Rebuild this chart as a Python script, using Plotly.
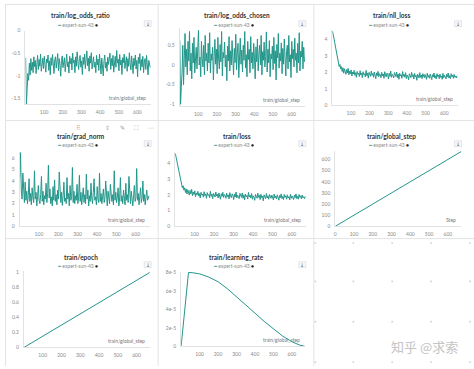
import plotly.graph_objects as go

W, H = 474, 369
TEAL = "#23968a"
GRAY_TXT = "#8a8a8a"
FONT = "Lato"

# ---------------- data ----------------
STEPS = list(range(1, 671, 4))

LOG_ODDS_RATIO = [
    -0.60, -1.62, -1.30, -0.95, -1.10, -0.72, -0.98, -0.62, -0.88, -0.70, -0.93, -0.58,
    -0.80, -0.66, -0.95, -0.72, -0.55, -0.86, -0.64, -0.79, -0.52, -0.90, -0.70, -0.61,
    -0.84, -0.57, -0.75, -0.92, -0.63, -0.71, -0.54, -0.88, -0.67, -0.98, -0.60, -0.77,
    -0.53, -0.74, -0.95, -0.65, -0.58, -0.83, -0.70, -0.51, -0.89, -0.62, -0.76, -1.01,
    -0.66, -0.56, -0.82, -0.72, -0.60, -0.91, -0.64, -0.52, -0.80, -0.69, -0.94, -0.57,
    -0.73, -0.61, -0.87, -0.50, -0.72, -0.65, -0.93, -0.58, -0.79, -0.47, -0.69, -0.86,
    -0.62, -0.55, -0.81, -0.67, -0.97, -0.59, -0.75, -0.52, -0.84, -0.64, -0.45, -0.78,
    -0.61, -0.90, -0.56, -0.72, -0.49, -0.85, -0.66, -0.58, -0.81, -0.70, -0.93, -0.55,
    -0.76, -0.63, -0.88, -0.52, -0.73, -0.96, -0.61, -0.79, -1.00, -0.67, -0.54, -0.83,
    -0.70, -0.90, -0.59, -0.75, -0.66, -0.50, -0.86, -0.62, -0.78, -0.55, -0.92, -0.68,
    -0.57, -0.81, -0.44, -0.72, -0.63, -0.89, -0.53, -0.76, -0.65, -0.97, -0.60, -0.71,
    -0.52, -0.84, -0.67, -0.58, -0.90, -0.62, -0.79, -0.49, -0.74, -0.87, -0.56, -0.69,
    -0.95, -0.61, -0.77, -0.54, -0.85, -0.66, -1.02, -0.59, -0.73, -0.51, -0.88, -0.64,
    -0.80, -0.57, -0.93, -0.70, -0.62, -0.86, -0.55, -0.76, -0.98, -0.66, -0.74, -0.82,
]

LOG_ODDS_CHOSEN = [
    0.62, -1.00, -0.55, -0.20, 0.50, -0.50, 0.15, 0.80, -0.05, 0.40, -0.25, 0.60,
    0.10, 0.85, -0.15, 0.30, -0.35, 0.55, 0.05, 0.70, -0.20, 0.25, 0.45, -0.10,
    0.35, 0.88, 0.00, 0.20, -0.30, 0.60, 0.15, -0.05, 0.50, -0.25, 0.75, 0.10,
    0.30, -0.15, 0.55, 0.05, 0.82, -0.20, 0.28, 0.12, 0.45, -0.38, 0.22, 0.65,
    0.02, 0.40, -0.22, 0.70, 0.15, -0.10, 0.52, 0.08, 0.85, -0.28, 0.32, 0.18,
    0.58, -0.05, 0.25, -0.40, 0.48, 0.10, 0.72, -0.15, 0.36, 0.00, 0.62, 0.20,
    -0.25, 0.42, 0.06, 0.78, -0.12, 0.30, 0.55, -0.32, 0.18, 0.68, 0.02, 0.38,
    -0.18, 0.50, 0.12, 0.85, -0.08, 0.26, -0.30, 0.60, 0.14, 0.40, -0.20, 0.72,
    0.05, 0.32, -0.10, 0.55, 0.20, -0.35, 0.46, 0.08, 0.66, -0.15, 0.28, 0.50,
    0.00, 0.75, -0.25, 0.34, 0.12, 0.58, -0.05, 0.22, 0.84, -0.18, 0.40, 0.06,
    0.62, -0.30, 0.28, 0.15, 0.48, -0.12, 0.70, 0.04, 0.36, -0.38, 0.52, 0.18,
    0.80, -0.08, 0.30, 0.10, 0.56, -0.22, 0.42, 0.02, 0.66, 0.14, -0.28, 0.34,
    0.50, -0.10, 0.75, 0.08, 0.26, -0.32, 0.60, 0.16, 0.40, -0.05, 0.68, 0.12,
    0.30, -0.20, 0.55, 0.05, 0.82, -0.15, 0.35, 0.20, 0.60, -0.10, 0.45, 0.08,
]

NLL_LOSS = [
    4.50, 4.35, 4.05, 3.80, 3.55, 3.35, 3.05, 2.75, 2.55, 2.35, 2.48, 2.20,
    2.35, 2.05, 2.28, 1.95, 2.22, 2.05, 1.88, 2.18, 1.96, 2.25, 1.85, 2.08,
    1.92, 2.15, 1.78, 2.02, 1.90, 2.12, 1.82, 1.98, 1.70, 2.06, 1.88, 1.95,
    1.75, 2.10, 1.84, 1.96, 1.68, 2.04, 1.86, 1.92, 1.72, 2.12, 1.80, 1.95,
    1.65, 2.00, 1.85, 1.76, 2.08, 1.82, 1.94, 1.70, 2.02, 1.88, 1.62, 1.97,
    1.80, 2.06, 1.74, 1.92, 1.85, 1.68, 2.00, 1.78, 1.90, 1.64, 2.04, 1.83,
    1.72, 1.96, 1.86, 1.60, 1.94, 1.76, 2.08, 1.70, 1.88, 1.80, 1.66, 1.99,
    1.82, 1.74, 2.02, 1.68, 1.90, 1.58, 1.95, 1.78, 1.86, 1.64, 2.05, 1.76,
    1.88, 1.70, 1.98, 1.62, 1.84, 1.75, 1.55, 1.92, 1.80, 1.68, 2.00, 1.74,
    1.86, 1.60, 1.94, 1.72, 1.82, 1.52, 1.90, 1.76, 1.66, 1.98, 1.70, 1.84,
    1.62, 1.92, 1.78, 1.68, 1.88, 1.74, 1.58, 1.95, 1.70, 1.82, 1.64, 1.90,
    1.76, 1.56, 1.86, 1.72, 1.96, 1.66, 1.80, 1.60, 1.92, 1.74, 1.84, 1.62,
    1.90, 1.70, 1.78, 1.58, 1.94, 1.68, 1.82, 1.74, 1.60, 1.88, 1.72, 1.96,
    1.66, 1.80, 1.62, 1.92, 1.74, 1.84, 1.64, 1.88, 1.70, 1.78, 1.66, 1.80,
]

GRAD_NORM = [
    4.30, 6.50, 3.20, 2.40, 4.70, 2.60, 2.10, 3.90, 2.30, 3.10, 2.00, 2.70,
    4.20, 2.20, 2.90, 1.90, 3.40, 2.50, 2.10, 4.90, 2.40, 3.00, 1.80, 2.60,
    3.60, 2.30, 2.00, 2.80, 4.40, 2.20, 3.10, 1.90, 2.70, 2.40, 3.80, 2.10,
    2.90, 5.40, 2.50, 3.30, 2.00, 2.60, 1.80, 3.50, 2.30, 4.10, 2.20, 2.80,
    1.90, 3.20, 2.40, 4.80, 2.60, 2.10, 3.00, 1.85, 2.70, 3.90, 2.20, 2.50,
    2.00, 4.30, 2.40, 2.90, 1.80, 3.60, 2.30, 2.60, 5.20, 2.10, 3.10, 2.00,
    2.70, 2.30, 3.70, 2.00, 2.50, 4.50, 2.20, 3.00, 1.90, 2.60, 3.40, 2.10,
    2.80, 2.00, 4.60, 2.40, 3.20, 1.80, 2.70, 2.20, 3.80, 2.50, 2.00, 3.00,
    4.20, 2.30, 2.60, 1.90, 3.50, 2.40, 2.10, 4.70, 2.20, 2.90, 2.00, 2.60,
    3.30, 2.10, 2.50, 4.00, 2.30, 1.80, 3.10, 2.60, 2.00, 3.70, 2.40, 2.20,
    2.80, 1.90, 4.90, 2.30, 3.00, 2.10, 2.60, 3.40, 1.80, 2.50, 4.30, 2.20,
    2.70, 2.00, 3.20, 2.40, 1.90, 3.80, 2.30, 2.80, 2.10, 4.40, 2.50, 2.00,
    3.10, 2.30, 1.80, 2.70, 3.60, 2.20, 2.50, 5.10, 2.30, 2.90, 1.90, 2.60,
    3.40, 2.10, 2.50, 4.00, 2.20, 2.80, 1.90, 2.60, 3.20, 2.30, 2.50, 2.70,
]

LOSS = [
    4.62, 4.45, 4.15, 3.90, 3.65, 3.45, 3.15, 2.85, 2.65, 2.45, 2.58, 2.30,
    2.45, 2.15, 2.38, 2.05, 2.32, 2.15, 1.98, 2.28, 2.06, 2.35, 1.95, 2.18,
    2.02, 2.25, 1.88, 2.12, 2.00, 2.22, 1.92, 2.08, 1.80, 2.16, 1.98, 2.05,
    1.85, 2.20, 1.94, 2.06, 1.78, 2.14, 1.96, 2.02, 1.82, 2.22, 1.90, 2.05,
    1.75, 2.10, 1.95, 1.86, 2.18, 1.92, 2.04, 1.80, 2.12, 1.98, 1.72, 2.07,
    1.90, 2.16, 1.84, 2.02, 1.95, 1.78, 2.10, 1.88, 2.00, 1.74, 2.14, 1.93,
    1.82, 2.06, 1.96, 1.70, 2.04, 1.86, 2.18, 1.80, 1.98, 1.90, 1.76, 2.09,
    1.92, 1.84, 2.12, 1.78, 2.00, 1.68, 2.05, 1.88, 1.96, 1.74, 2.15, 1.86,
    1.98, 1.80, 2.08, 1.72, 1.94, 1.85, 1.65, 2.02, 1.90, 1.78, 2.10, 1.84,
    1.96, 1.70, 2.04, 1.82, 1.92, 1.62, 2.00, 1.86, 1.76, 2.08, 1.80, 1.94,
    1.72, 2.02, 1.88, 1.78, 1.98, 1.84, 1.68, 2.05, 1.80, 1.92, 1.74, 2.00,
    1.86, 1.66, 1.96, 1.82, 2.06, 1.76, 1.90, 1.70, 2.02, 1.84, 1.94, 1.72,
    2.00, 1.80, 1.88, 1.68, 2.04, 1.78, 1.92, 1.84, 1.70, 1.98, 1.82, 2.06,
    1.76, 1.90, 1.72, 2.02, 1.84, 1.94, 1.74, 1.98, 1.80, 1.88, 1.76, 1.90,
]

GS_STEP = [0, 672]
GS_VALUE = [0, 672]

EPOCH_STEP = [1, 670]
EPOCH_VALUE = [0.0, 1.0]

LR_STEP = [0, 40, 60, 100, 150, 200, 250, 300, 350, 400, 450, 500, 550, 600, 640, 670]
LR_VALUE = [0.0, 8.0e-5, 7.98e-5, 7.85e-5, 7.5e-5, 7.0e-5, 6.25e-5, 5.4e-5,
            4.5e-5, 3.6e-5, 2.7e-5, 1.85e-5, 1.1e-5, 0.5e-5, 0.15e-5, 0.0]

X_TICKS = [100, 200, 300, 400, 500, 600]
X_TICKS_STEP = [0, 100, 200, 300, 400, 500, 600]

# ---------------- layout helpers ----------------
def fx(p):
    return p / W


def fy(p):
    return 1 - p / H


COL_CENTER = [80, 236, 391]
COL_ICON = [147, 302, 458]
ROW_TITLE = [13, 136, 259]
ROW_LEGEND = [22, 144, 267]

panels = [
    dict(title="train/log_odds_ratio", col=0, row=0, x=STEPS, y=LOG_ODDS_RATIO,
         left=24.5, ppu=0.187, xr=[0, 672], top=28, bottom=103, yr=[-1.63, 0.0],
         yt=[0, -0.5, -1, -1.5], ytt=["0", "-0.5", "-1", "-1.5"], xt=X_TICKS,
         xlab="train/global_step"),
    dict(title="train/log_odds_chosen", col=1, row=0, x=STEPS, y=LOG_ODDS_CHOSEN,
         left=179, ppu=0.187, xr=[0, 672], top=25.8, bottom=104.2, yr=[-1.03, 0.93],
         yt=[0.5, 0, -0.5, -1], ytt=["0.5", "0", "-0.5", "-1"], xt=X_TICKS,
         xlab="train/global_step"),
    dict(title="train/nll_loss", col=2, row=0, x=STEPS, y=NLL_LOSS,
         left=332, ppu=0.187, xr=[0, 672], top=27, bottom=104, yr=[0, 4.6],
         yt=[0, 1, 2, 3, 4], ytt=["0", "1", "2", "3", "4"], xt=X_TICKS,
         xlab="train/global_step"),
    dict(title="train/grad_norm", col=0, row=1, x=STEPS, y=GRAD_NORM,
         left=18.6, ppu=0.194, xr=[0, 672], top=151, bottom=227, yr=[0, 6.6],
         yt=[0, 1, 2, 3, 4, 5, 6], ytt=["0", "1", "2", "3", "4", "5", "6"], xt=X_TICKS,
         xlab="train/global_step"),
    dict(title="train/loss", col=1, row=1, x=STEPS, y=LOSS,
         left=174.5, ppu=0.195, xr=[0, 672], top=151.8, bottom=227, yr=[0, 4.7],
         yt=[0, 1, 2, 3, 4], ytt=["0", "1", "2", "3", "4"], xt=X_TICKS,
         xlab="train/global_step"),
    dict(title="train/global_step", col=2, row=1, x=GS_STEP, y=GS_VALUE,
         left=335, ppu=0.188, xr=[0, 672], top=150, bottom=227, yr=[0, 680],
         yt=[0, 100, 200, 300, 400, 500, 600],
         ytt=["0", "100", "200", "300", "400", "500", "600"], xt=X_TICKS_STEP,
         xlab="Step"),
    dict(title="train/epoch", col=0, row=2, x=EPOCH_STEP, y=EPOCH_VALUE,
         left=23, ppu=0.188, xr=[0, 672], top=272.5, bottom=350, yr=[0, 1.02],
         yt=[0, 0.2, 0.4, 0.6, 0.8, 1], ytt=["0", "0.2", "0.4", "0.6", "0.8", "1"],
         xt=X_TICKS, xlab="train/global_step"),
    dict(title="train/learning_rate", col=1, row=2, x=LR_STEP, y=LR_VALUE,
         left=180.5, ppu=0.185, xr=[0, 672], top=273, bottom=349, yr=[0, 8.1e-5],
         yt=[0, 2e-5, 4e-5, 6e-5, 8e-5], ytt=["0", "2e-5", "4e-5", "6e-5", "8e-5"],
         xt=X_TICKS, xlab="train/global_step"),
]

fig = go.Figure()
layout = dict(
    width=W, height=H,
    margin=dict(l=0, r=0, t=0, b=0),
    paper_bgcolor="white", plot_bgcolor="white",
    showlegend=False,
    font=dict(family=FONT, size=5, color=GRAY_TXT),
)
annotations = []
shapes = []

# panel separators
for xp in [4.5, 157.5, 313.5]:
    shapes.append(dict(type="line", xref="paper", yref="paper",
                       x0=fx(xp), x1=fx(xp), y0=fy(1), y1=fy(369),
                       line=dict(color="#e3e3e3", width=1)))
for yp in [1.5, 119.5, 239.5]:
    shapes.append(dict(type="line", xref="paper", yref="paper",
                       x0=fx(4.5), x1=fx(474), y0=fy(yp), y1=fy(yp),
                       line=dict(color="#e3e3e3", width=1)))

for i, p in enumerate(panels, start=1):
    right = p["left"] + p["ppu"] * p["xr"][1]
    xa = "xaxis" if i == 1 else f"xaxis{i}"
    ya = "yaxis" if i == 1 else f"yaxis{i}"
    xr_ = "x" if i == 1 else f"x{i}"
    yr_ = "y" if i == 1 else f"y{i}"
    layout[xa] = dict(domain=[fx(p["left"]), fx(right)], anchor=yr_, range=p["xr"],
                      showgrid=False, zeroline=False, showline=True,
                      linecolor="#e2e2e2", linewidth=1, ticks="",
                      tickvals=p["xt"], ticktext=[str(v) for v in p["xt"]],
                      tickfont=dict(size=5, color=GRAY_TXT, family=FONT),
                      ticklabelstandoff=3, fixedrange=True)
    layout[ya] = dict(domain=[fy(p["bottom"]), fy(p["top"])], anchor=xr_, range=p["yr"],
                      showgrid=False, zeroline=False, showline=True,
                      linecolor="#e2e2e2", linewidth=1, ticks="",
                      tickvals=p["yt"], ticktext=p["ytt"],
                      tickfont=dict(size=5, color=GRAY_TXT, family=FONT),
                      ticklabelstandoff=3, fixedrange=True)
    fig.add_trace(go.Scatter(x=p["x"], y=p["y"], mode="lines", xaxis=xr_, yaxis=yr_,
                             line=dict(color=TEAL, width=1), hoverinfo="skip"))

    c, r = p["col"], p["row"]
    annotations.append(dict(text=p["title"], xref="paper", yref="paper",
                            x=fx(COL_CENTER[c]), y=fy(ROW_TITLE[r]),
                            xanchor="center", yanchor="middle", showarrow=False,
                            font=dict(size=6.5, color="#333333", family=FONT, weight="bold")))
    annotations.append(dict(
        text=f'<span style="color:{TEAL}">━</span> expert-sun-43 <span style="color:#222">●</span>',
        xref="paper", yref="paper", x=fx(COL_CENTER[c] - 3), y=fy(ROW_LEGEND[r]),
        xanchor="center", yanchor="middle", showarrow=False,
        font=dict(size=5, color=GRAY_TXT, family=FONT)))
    ix, iy = COL_ICON[c], ROW_LEGEND[r] - 1
    shapes.append(dict(type="rect", xref="paper", yref="paper",
                       x0=fx(ix - 3.5), x1=fx(ix + 3.5), y0=fy(iy + 3), y1=fy(iy - 3),
                       line=dict(color="#d6d6d6", width=0.6), fillcolor="#f7f7f7"))
    annotations.append(dict(text="↓", xref="paper", yref="paper", x=fx(ix), y=fy(iy),
                            xanchor="center", yanchor="middle", showarrow=False,
                            font=dict(size=5, color="#555555", family="DejaVu Sans")))
    annotations.append(dict(text=p["xlab"], xref="paper", yref="paper",
                            x=fx(right - 3), y=fy(p["bottom"] - 1),
                            xanchor="right", yanchor="bottom", showarrow=False,
                            font=dict(size=5, color="#777777", family=FONT)))

# hover toolbar of the grad_norm panel
for gx, glyph in [(77, "⠿"), (107, "⇪"), (122, "✎"), (136, "⛶"), (150, "⋯")]:
    annotations.append(dict(text=glyph, xref="paper", yref="paper", x=fx(gx), y=fy(126.5),
                            xanchor="center", yanchor="middle", showarrow=False,
                            font=dict(size=6, color="#9a9a9a", family="DejaVu Sans")))

# dot grid in the empty area
for dx in [315, 353, 392, 431, 470]:
    for dy in [244, 283, 324, 365]:
        shapes.append(dict(type="circle", xref="paper", yref="paper",
                           x0=fx(dx - 0.9), x1=fx(dx + 0.9), y0=fy(dy + 0.9), y1=fy(dy - 0.9),
                           line=dict(width=0), fillcolor="#cfcfcf"))

annotations.append(dict(text="知乎 @求索", xref="paper", yref="paper", x=fx(424), y=fy(349),
                        xanchor="center", yanchor="middle", showarrow=False,
                        font=dict(size=13, color="#c4c4c4", family="Noto Sans CJK SC")))

layout["annotations"] = annotations
layout["shapes"] = shapes
fig.update_layout(**layout)
fig.write_html("out.html", config={"displayModeBar": False},
               post_script="document.body.style.margin='0px';document.body.style.overflow='hidden';")
